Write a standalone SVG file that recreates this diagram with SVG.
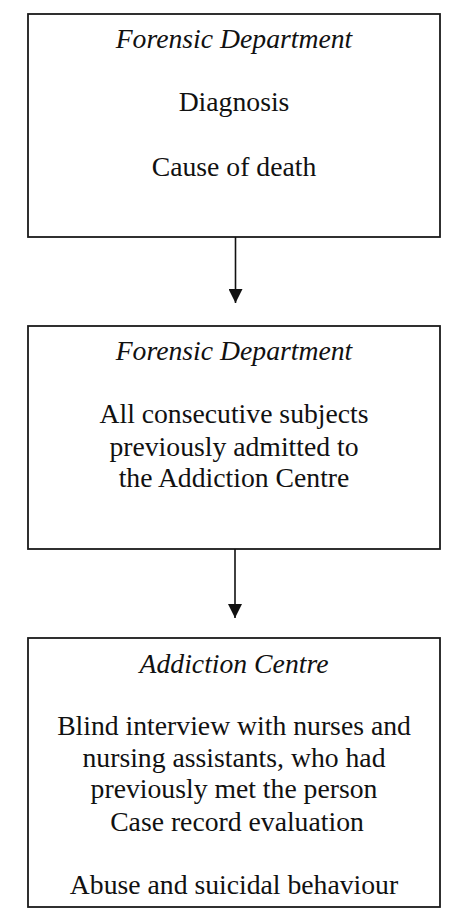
<svg xmlns="http://www.w3.org/2000/svg" width="474" height="923" viewBox="0 0 474 923">
<defs>
<style>
.box{fill:#fff;stroke:#1a1a1a;stroke-width:1.8}
.t{font-family:"Liberation Serif","Times New Roman",serif;font-size:27.7px;fill:#111;text-anchor:middle}
.i{font-style:italic}
.c{stroke:#111;stroke-width:1.6;fill:none}
</style>
<marker id="ah" markerWidth="14" markerHeight="14" viewBox="0 0 14 14" refX="14" refY="7" orient="auto" markerUnits="userSpaceOnUse">
<path d="M0,0 L14,7 L0,14 Z" fill="#111"/>
</marker>
</defs>
<rect width="474" height="923" fill="#fff"/>
<g id="node1">
<rect class="box" x="28" y="14" width="412" height="223"/>
<text class="t i" x="234" y="48">Forensic Department</text>
<text class="t" x="234" y="111">Diagnosis</text>
<text class="t" x="234" y="176">Cause of death</text>
</g>
<g id="node2">
<rect class="box" x="28" y="326" width="412" height="223"/>
<text class="t i" x="234" y="360">Forensic Department</text>
<text class="t" x="234" y="423">All consecutive subjects</text>
<text class="t" x="234" y="456">previously admitted to</text>
<text class="t" x="234" y="487">the Addiction Centre</text>
</g>
<g id="node3">
<rect class="box" x="28" y="638" width="412" height="269"/>
<text class="t i" x="234" y="673">Addiction Centre</text>
<text class="t" x="234" y="735">Blind interview with nurses and</text>
<text class="t" x="234" y="767">nursing assistants, who had</text>
<text class="t" x="234" y="798">previously met the person</text>
<text class="t" x="237" y="831">Case record evaluation</text>
<text class="t" x="234" y="894">Abuse and suicidal behaviour</text>
</g>
<g id="connectors">
<line class="c" x1="235.5" y1="237" x2="235.5" y2="303" marker-end="url(#ah)"/>
<line class="c" x1="235" y1="549" x2="235" y2="618" marker-end="url(#ah)"/>
</g>
</svg>
